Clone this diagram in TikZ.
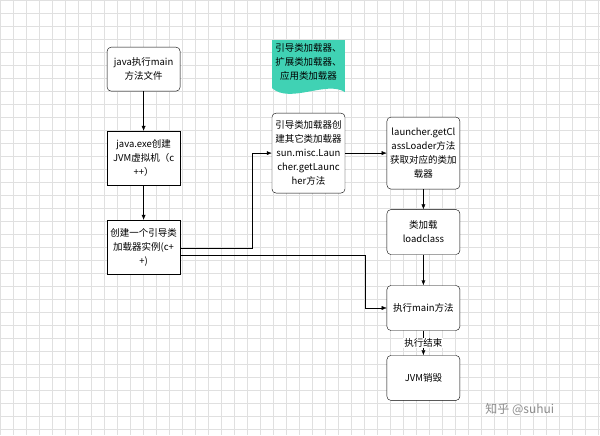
\documentclass[tikz,border=0pt]{standalone}
\usepackage{fontspec}
\setmainfont{Noto Sans CJK SC}
\usetikzlibrary{arrows.meta}
\definecolor{docteal}{HTML}{40D2B4}
\begin{document}
\begin{tikzpicture}[x=1pt,y=-1pt,
    box/.style={draw,fill=white,rounded corners=4pt,minimum width=73pt,align=center,font=\fontsize{9.5}{14}\selectfont,inner sep=1pt},
    sqbox/.style={box,rounded corners=0pt},
    arr/.style={-{Latex[length=5pt,width=4pt]},thin}]
  \fill[white] (0,0) rectangle (600,435);
  \draw[black!12,step=13pt] (0,0) grid (600,435);
  \useasboundingbox (0,0) rectangle (600,435);
  % teal note
  \fill[docteal] (272,40) -- (345,40) -- (345,92) .. controls (327,80) and (290,104) .. (272,88) -- cycle;
  \node[align=center,font=\fontsize{9.5}{14}\selectfont] (note) at (308.5,62) {引导类加载器、\\扩展类加载器、\\应用类加载器};
  % boxes
  \node[box,minimum height=44pt] (javamain) at (143.5,69) {java执行main\\方法文件};
  \node[sqbox,minimum height=54pt] (javaexe) at (143.5,158) {java.exe创建\\JVM虚拟机（c\\++）};
  \node[sqbox,minimum height=54pt] (boot) at (143.5,247) {创建一个引导类\\加载器实例(c+\\+)};
  \node[box,minimum height=80pt] (launcher) at (308.5,153) {引导类加载器创\\建其它类加载器\\sun.misc.Laun\\cher.getLaunc\\her方法};
  \node[box,minimum height=72pt] (getloader) at (423.5,153) {launcher.getCl\\assLoader方法\\获取对应的类加\\载器};
  \node[box,minimum height=45pt] (load) at (423.5,232) {类加载\\loadclass};
  \node[box,minimum height=45pt] (runmain) at (423.5,308) {执行main方法};
  \node[box,minimum height=45pt] (destroy) at (423.5,378) {JVM销毁};
  % connectors
  \draw[arr] (boot.east |- 0,248) -| (252,153) -- (launcher);
  \draw[arr] (boot.east |- 0,255) -| (365,308) -- (runmain);
  \draw[arr] (javamain) -- (javaexe);
  \draw[arr] (javaexe) -- (boot);
  \draw[arr] (launcher) -- (getloader);
  \draw[arr] (getloader) -- (load);
  \draw[arr] (load) -- (runmain);
  \draw[arr] (runmain) -- node[fill=white,inner sep=1pt,font=\fontsize{9.5}{11}\selectfont] {执行结束} (destroy);
  \node[text=black!45,font=\fontsize{12}{14}\selectfont] (mark) at (520,410) {知乎 @suhui};
\end{tikzpicture}
\end{document}
